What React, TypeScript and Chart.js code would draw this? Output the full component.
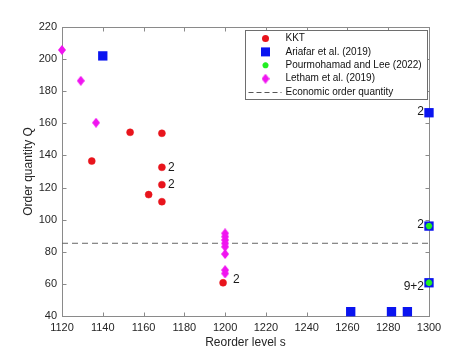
import React, { useEffect, useRef } from 'react';
import { Chart, registerables } from 'chart.js';

Chart.register(...registerables);

// ---- data ----
const xTickValues = [1120, 1140, 1160, 1180, 1200, 1220, 1240, 1260, 1280, 1300];
const yTickValues = [40, 60, 80, 100, 120, 140, 160, 180, 200, 220];

const kktS = [1134.6, 1153.4, 1169, 1169, 1169, 1162.5, 1169, 1199];
const kktQ = [136.5, 154.4, 153.8, 132.6, 121.8, 115.6, 111.2, 60.7];

const ariafarS = [1140, 1300, 1300, 1300, 1261.6, 1281.6, 1289.4];
const ariafarQ = [202, 166.6, 96, 60.7, 42.7, 42.7, 42.7];

const pourS = [1300, 1300];
const pourQ = [96, 60.7];

const lethamS = [1120, 1129.2, 1136.7, 1200, 1200, 1200, 1200, 1200, 1200, 1200, 1200];
const lethamQ = [205.7, 186.5, 160.4, 91.5, 89.4, 87.3, 85.2, 83.1, 78.6, 68.6, 66.5];

const eoqValue = 85.3;

const seriesNames = [
  'KKT',
  'Ariafar et al. (2019)',
  'Pourmohamad and Lee (2022)',
  'Letham et al. (2019)',
  'Economic order quantity',
];

const noteS = [1169, 1169, 1199, 1300, 1300, 1300];
const noteQ = [132.6, 121.8, 60.7, 166.6, 96, 60.7];
const noteText = ['2', '2', '2', '2', '2', '9+2'];
const noteSide = ['right', 'right', 'right', 'left', 'left', 'left'];

const xTitle = 'Reorder level s';
const yTitle = 'Order quantity Q';

// ---- styles ----
const RED = '#e8141c';
const BLUE = '#0a14f0';
const GREEN = '#22ee22';
const MAGENTA = '#f014f0';
const AXIS = '#8a8a8a';
const TEXT = '#262626';
const FONT = '"Liberation Sans", Arial, sans-serif';

function makeDiamond(w: number, h: number, color: string) {
  const c = document.createElement('canvas');
  c.width = w;
  c.height = h;
  const g = c.getContext('2d')!;
  g.fillStyle = color;
  g.beginPath();
  g.moveTo(w / 2, 0);
  g.lineTo(w, h / 2);
  g.lineTo(w / 2, h);
  g.lineTo(0, h / 2);
  g.closePath();
  g.fill();
  return c;
}

const pts = (xs: number[], ys: number[]) => xs.map((x, i) => ({ x, y: ys[i] }));

export default function App() {
  const ref = useRef<HTMLCanvasElement | null>(null);

  useEffect(() => {
    document.body.style.margin = '0';
    const canvas = ref.current!;
    const diamond = makeDiamond(8, 10, MAGENTA);

    const framePlugin = {
      id: 'frame',
      beforeDatasetsDraw(chart: any) {
        const { ctx, chartArea } = chart;
        const { left, right, top, bottom } = chartArea;
        const xs = chart.scales.x;
        const ys = chart.scales.y;
        const L = Math.round(left) + 0.5;
        const R = Math.round(right) + 0.5;
        const T = Math.round(top) + 0.5;
        const B = Math.round(bottom) + 0.5;
        ctx.save();
        ctx.strokeStyle = AXIS;
        ctx.lineWidth = 1;
        ctx.strokeRect(L, T, R - L, B - T);
        const tl = 4;
        ctx.beginPath();
        xTickValues.forEach((v) => {
          const px = Math.round(xs.getPixelForValue(v)) + 0.5;
          ctx.moveTo(px, B);
          ctx.lineTo(px, B - tl);
          ctx.moveTo(px, T);
          ctx.lineTo(px, T + tl);
        });
        yTickValues.forEach((v) => {
          const py = Math.round(ys.getPixelForValue(v)) + 0.5;
          ctx.moveTo(L, py);
          ctx.lineTo(L + tl, py);
          ctx.moveTo(R, py);
          ctx.lineTo(R - tl, py);
        });
        ctx.stroke();
        ctx.restore();
      },
      afterDraw(chart: any) {
        const { ctx, chartArea } = chart;
        const xs = chart.scales.x;
        const ys = chart.scales.y;
        ctx.save();
        // notes
        ctx.font = `12px ${FONT}`;
        ctx.fillStyle = '#1a1a1a';
        ctx.textBaseline = 'middle';
        noteText.forEach((t, i) => {
          const px = xs.getPixelForValue(noteS[i]);
          const py = ys.getPixelForValue(noteQ[i]);
          if (noteSide[i] === 'right') {
            ctx.textAlign = 'left';
            const off = noteS[i] === 1199 ? 10 : 6;
            ctx.fillText(t, px + off, py - (noteS[i] === 1199 ? 3 : 0));
          } else {
            ctx.textAlign = 'right';
            const dy = t === '9+2' ? 4 : -1;
            ctx.fillText(t, px - 5, py + dy);
          }
        });

        // legend
        const bx = Math.round(chartArea.right) - 184 + 0.5;
        const by = Math.round(chartArea.top) + 3 + 0.5;
        const bw = 182;
        const bh = 69;
        ctx.fillStyle = '#ffffff';
        ctx.fillRect(bx, by, bw, bh);
        ctx.strokeStyle = '#6e6e6e';
        ctx.lineWidth = 1;
        ctx.strokeRect(bx, by, bw, bh);
        const mx = bx + 20;
        const rowY = (i: number) => by + 8 + i * 13.4;
        // KKT
        ctx.fillStyle = RED;
        ctx.beginPath();
        ctx.arc(mx, rowY(0), 3.5, 0, Math.PI * 2);
        ctx.fill();
        // Ariafar
        ctx.fillStyle = BLUE;
        ctx.fillRect(mx - 4.5, rowY(1) - 4.5, 9, 9);
        // Pourmohamad star
        ctx.strokeStyle = GREEN;
        ctx.lineWidth = 2;
        ctx.beginPath();
        for (let k = 0; k < 4; k++) {
          const a = (k * Math.PI) / 4;
          ctx.moveTo(mx - 3 * Math.cos(a), rowY(2) - 3 * Math.sin(a));
          ctx.lineTo(mx + 3 * Math.cos(a), rowY(2) + 3 * Math.sin(a));
        }
        ctx.stroke();
        // Letham
        ctx.drawImage(diamond, mx - 4, rowY(3) - 5);
        // EOQ
        ctx.strokeStyle = '#555';
        ctx.lineWidth = 1;
        ctx.setLineDash([5, 3]);
        ctx.beginPath();
        ctx.moveTo(bx + 3, Math.round(rowY(4)) + 0.5);
        ctx.lineTo(bx + 36, Math.round(rowY(4)) + 0.5);
        ctx.stroke();
        ctx.setLineDash([]);
        ctx.fillStyle = '#111';
        ctx.font = `10px ${FONT}`;
        ctx.textAlign = 'left';
        ctx.textBaseline = 'middle';
        seriesNames.forEach((n, i) => ctx.fillText(n, bx + 40, rowY(i)));
        ctx.restore();
      },
    };

    const chart = new Chart(canvas, {
      type: 'scatter',
      data: {
        datasets: [
          {
            label: seriesNames[0],
            data: pts(kktS, kktQ),
            pointStyle: 'circle',
            pointRadius: 3.5,
            pointBackgroundColor: RED,
            pointBorderColor: RED,
            pointBorderWidth: 0.5,
            order: 0,
            clip: false,
          },
          {
            label: seriesNames[1],
            data: pts(ariafarS, ariafarQ),
            pointStyle: 'rect',
            pointRadius: 6.6,
            pointBackgroundColor: BLUE,
            pointBorderColor: BLUE,
            pointBorderWidth: 0,
            order: 2,
            clip: false,
          },
          {
            label: seriesNames[2],
            data: pts(pourS, pourQ),
            pointStyle: 'star',
            pointRadius: 3.2,
            pointBackgroundColor: GREEN,
            pointBorderColor: GREEN,
            pointBorderWidth: 2,
            order: 1,
            clip: false,
          },
          {
            label: seriesNames[3],
            data: pts(lethamS, lethamQ),
            pointStyle: diamond,
            pointRadius: 5,
            order: 3,
            clip: false,
          },
          {
            type: 'line',
            label: seriesNames[4],
            data: [
              { x: xTickValues[0], y: eoqValue },
              { x: xTickValues[xTickValues.length - 1], y: eoqValue },
            ],
            borderColor: '#666',
            borderWidth: 1,
            borderDash: [6, 4],
            pointRadius: 0,
            showLine: true,
            order: 4,
          } as any,
        ],
      },
      options: {
        responsive: false,
        animation: false,
        events: [],
        layout: { padding: { left: 0, top: 27, right: 45, bottom: 0 } },
        plugins: {
          legend: { display: false },
          tooltip: { enabled: false },
        },
        scales: {
          x: {
            type: 'linear',
            min: 1120,
            max: 1300,
            afterBuildTicks: (s: any) => {
              s.ticks = xTickValues.map((v) => ({ value: v }));
            },
            afterFit: (s: any) => {
              s.height = 39;
            },
            grid: { display: false, drawTicks: false },
            border: { display: false },
            ticks: {
              color: TEXT,
              font: { family: FONT, size: 11 },
              padding: 5,
              maxRotation: 0,
              autoSkip: false,
              callback: (v: any) => String(v),
            },
            title: {
              display: true,
              text: xTitle,
              color: TEXT,
              font: { family: FONT, size: 12 },
              padding: { top: 5, bottom: 5 },
            },
          },
          y: {
            type: 'linear',
            min: 40,
            max: 220,
            afterBuildTicks: (s: any) => {
              s.ticks = yTickValues.map((v) => ({ value: v }));
            },
            afterFit: (s: any) => {
              s.width = 62;
            },
            grid: { display: false, drawTicks: false },
            border: { display: false },
            ticks: {
              color: TEXT,
              font: { family: FONT, size: 11 },
              padding: 5,
              autoSkip: false,
              callback: (v: any) => String(v),
            },
            title: {
              display: true,
              text: yTitle,
              color: TEXT,
              font: { family: FONT, size: 12 },
              padding: { top: 21, bottom: 0 },
            },
          },
        },
      },
      plugins: [framePlugin as any],
    });

    return () => chart.destroy();
  }, []);

  return (
    <div style={{ width: 474, height: 355, background: '#fff' }}>
      <canvas ref={ref} width={474} height={355} style={{ display: 'block' }} />
    </div>
  );
}
